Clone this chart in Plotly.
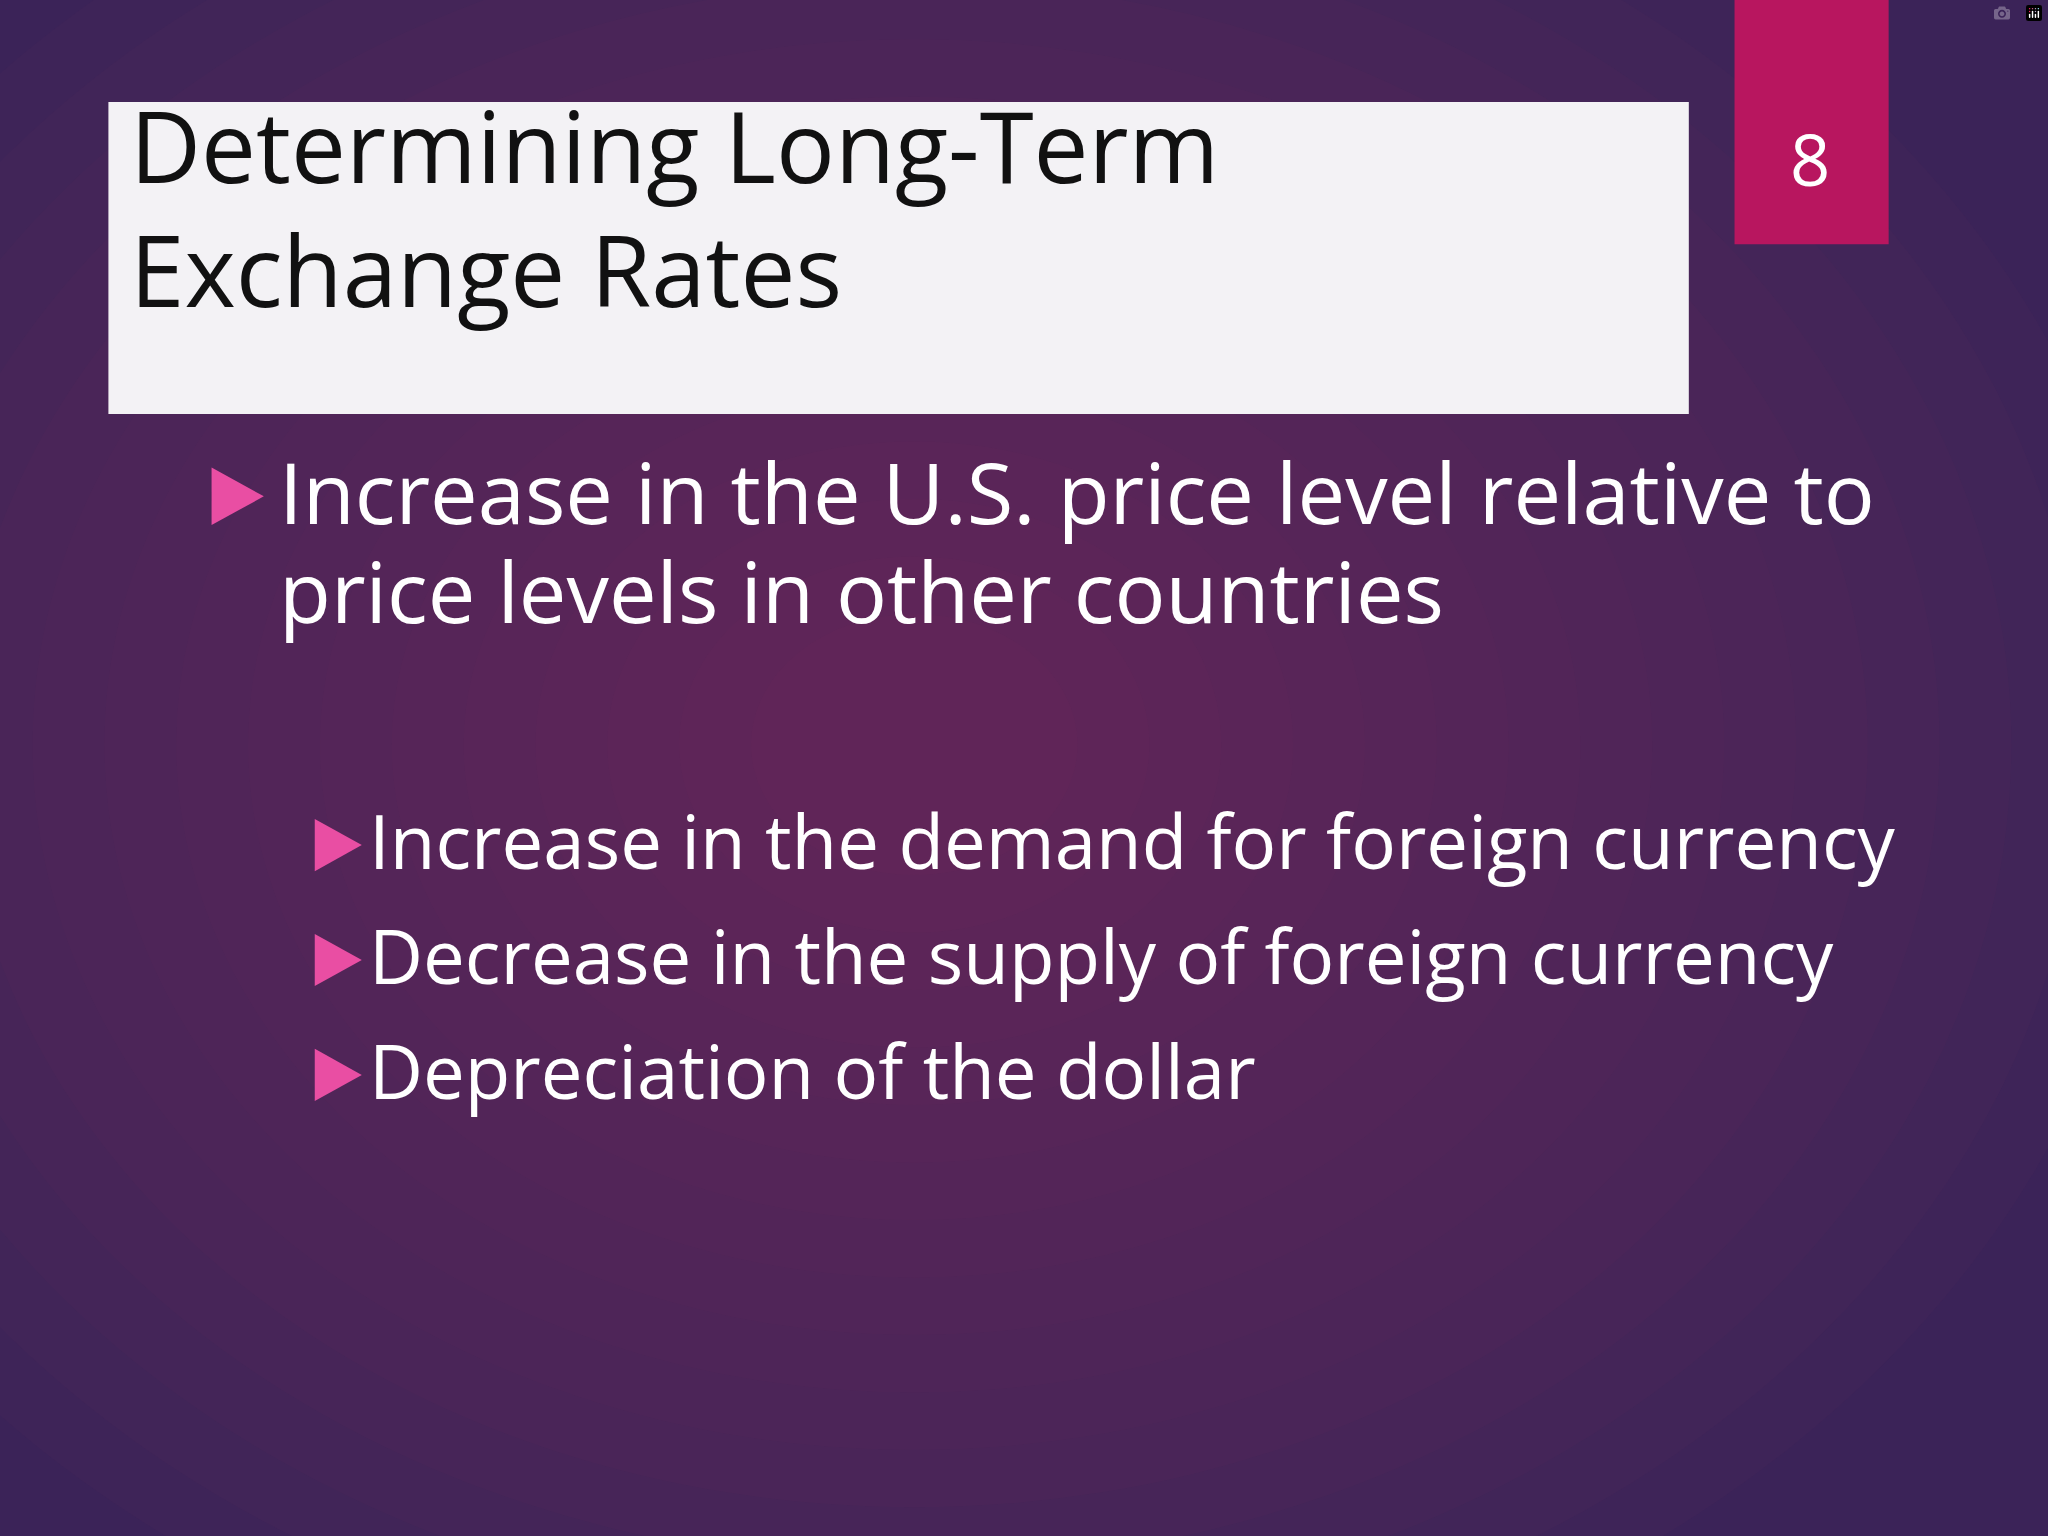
import plotly.graph_objects as go

title_lines = ["Determining Long-Term", "Exchange Rates"]
page_number = "8"
main_bullet = ["Increase in the U.S. price level relative to", "price levels in other countries"]
sub_bullets = ["Increase in the demand for foreign currency",
               "Decrease in the supply of foreign currency",
               "Depreciation of the dollar"]

S = 2048 / 1568
FONT = "Open Sans"
fig = go.Figure()
shapes = []
# background glow
for i in range(16):
    r = 950 - i * 55
    shapes.append(dict(type="circle", xref="x", yref="y", x0=700 - r, x1=700 + r,
                       y0=570 - r * 0.8, y1=570 + r * 0.8, fillcolor="#b0407a",
                       opacity=0.028, line=dict(width=0), layer="below"))
shapes.append(dict(type="rect", x0=83, x1=1293, y0=78, y1=317, fillcolor="#f3f2f5", line=dict(width=0)))
shapes.append(dict(type="rect", x0=1328, x1=1446, y0=0, y1=187, fillcolor="#b8165f", line=dict(width=0)))

def tri(x, y, w=40, h=44):
    return dict(type="path", path=f"M {x},{y-h/2} L {x+w},{y} L {x},{y+h/2} Z",
                fillcolor="#e94ea3", line=dict(width=0))

ann = []
for i, t in enumerate(title_lines):
    ann.append(dict(x=98, y=111 + 95 * i, text=t, xanchor="left", yanchor="middle",
                    showarrow=False, font=dict(family=FONT, size=75 * S, color="#111")))
ann.append(dict(x=1386, y=122, text=page_number, showarrow=False,
                font=dict(family=FONT, size=54 * S, color="white")))
shapes.append(tri(162, 380))
for i, t in enumerate(main_bullet):
    ann.append(dict(x=212, y=376 + 76 * i, text=t, xanchor="left", yanchor="middle",
                    showarrow=False, font=dict(family=FONT, size=65 * S, color="white")))
for i, t in enumerate(sub_bullets):
    y = 643 + 88 * i
    shapes.append(tri(241, y + 4, 36, 40))
    ann.append(dict(x=281, y=y, text=t, xanchor="left", yanchor="middle",
                    showarrow=False, font=dict(family=FONT, size=57 * S, color="white")))

fig.update_layout(width=2048, height=1536, margin=dict(l=0, r=0, t=0, b=0),
                  paper_bgcolor="#3b2358", plot_bgcolor="rgba(0,0,0,0)",
                  xaxis=dict(range=[0, 1568], visible=False, fixedrange=True),
                  yaxis=dict(range=[1176, 0], visible=False, fixedrange=True),
                  shapes=shapes, annotations=ann, showlegend=False)
fig.write_html("out.html", post_script="document.body.style.margin='0';document.body.style.background='#3b2358';")
